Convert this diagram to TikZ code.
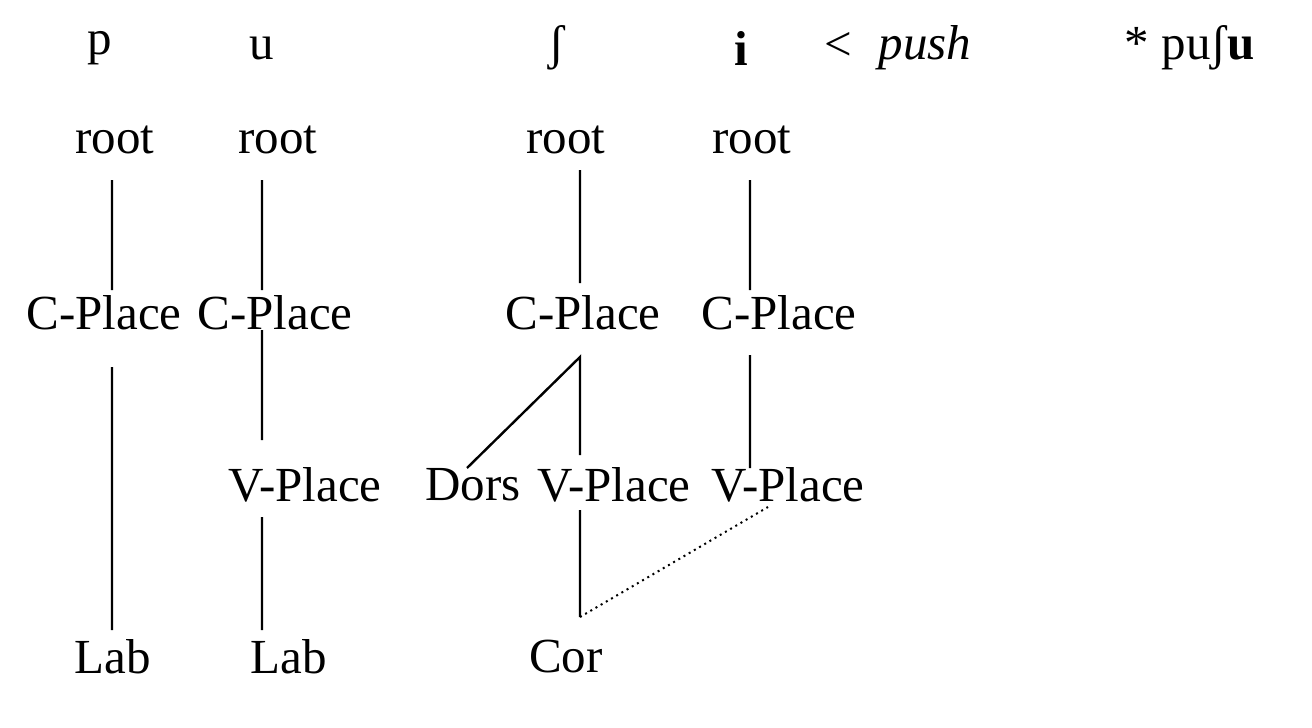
\documentclass[tikz,border=0pt]{standalone}
\usepackage{fontspec}
\setmainfont{Liberation Serif}
\begin{document}
\begin{tikzpicture}[x=0.5pt,y=-0.5pt,every node/.style={font=\fontsize{24.5}{28}\selectfont,inner sep=0pt},ln/.style={line width=1.2pt}]
\useasboundingbox (0,0) rectangle (1312,728);
\node (tp) at (100,48) {p};
\node (tu) at (262,48) {u};
\node (tsh) at (557,48) {ʃ};
\node (ti) at (741,48) {\textbf{i}};
\node (tlt) at (838,46) {<};
\node (tpush) at (925,48) {\textit{push}};
\node (tstar) at (1190,48) {* puʃ\textbf{u}};
\node (r1) at (115,140) {root};
\node (r2) at (278,140) {root};
\node (r3) at (566,140) {root};
\node (r4) at (752,140) {root};
\node (c1) at (104,313) {C-Place};
\node (c2) at (275,313) {C-Place};
\node (c3) at (583,313) {C-Place};
\node (c4) at (779,313) {C-Place};
\node (v2) at (305,485) {V-Place};
\node (dors) at (473,485) {Dors};
\node (v3) at (614,485) {V-Place};
\node (v4) at (788,485) {V-Place};
\node (l1) at (113,657) {Lab};
\node (l2) at (289,657) {Lab};
\node (cor) at (566,657) {Cor};
\coordinate (a1) at (112,180); \coordinate (a2) at (112,290);
\coordinate (a3) at (112,367); \coordinate (a4) at (112,630);
\coordinate (b1) at (262,180); \coordinate (b2) at (262,290);
\coordinate (b3) at (262,330); \coordinate (b4) at (262,440);
\coordinate (b5) at (262,517); \coordinate (b6) at (262,630);
\coordinate (s1) at (580,170); \coordinate (s2) at (580,283);
\coordinate (s3) at (580,357); \coordinate (s4) at (467,468);
\coordinate (s5) at (580,455); \coordinate (s6) at (580,510);
\coordinate (s7) at (580,617); \coordinate (d1) at (768,507);
\coordinate (i1) at (750,180); \coordinate (i2) at (750,290);
\coordinate (i3) at (750,355); \coordinate (i4) at (750,468);
\draw[ln] (a1)--(a2) (a3)--(a4) (b1)--(b2) (b3)--(b4) (b5)--(b6)
 (s1)--(s2) (s4)--(s3)--(s5) (s6)--(s7) (i1)--(i2) (i3)--(i4);
\draw[line width=1pt,dotted] (s7)--(d1);
\end{tikzpicture}
\end{document}
